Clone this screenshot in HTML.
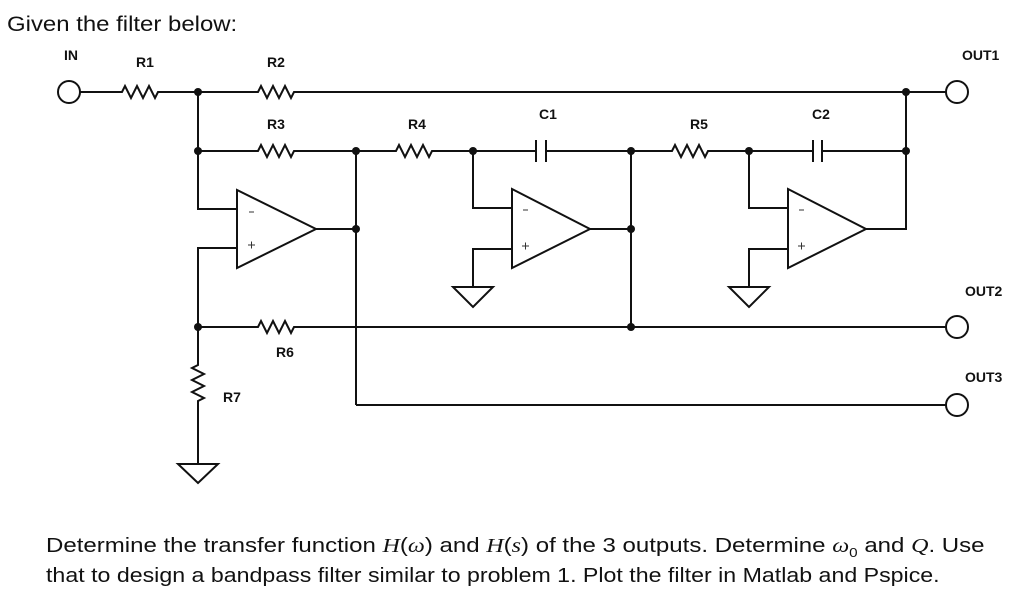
<!DOCTYPE html>
<html><head><style>
body{margin:0;background:#fff;width:1024px;height:593px;overflow:hidden;position:relative;font-family:"Liberation Sans",sans-serif}
.t{position:absolute;white-space:nowrap;color:#111;transform-origin:0 0}
i{font-family:'Liberation Serif',serif}
</style></head><body>
<div class="t" style="left:7px;top:13px;font-size:21px;transform:scaleX(1.14)">Given the filter below:</div>
<div class="t" style="left:46px;top:531px;font-size:20.5px;line-height:30px;transform:scaleX(1.172)">Determine the transfer function <i>H</i>(<i>ω</i>) and <i>H</i>(<i>s</i>) of the 3 outputs. Determine <i>ω</i><sub style="font-size:13px">0</sub> and <i>Q</i>. Use</div>
<div class="t" style="left:46px;top:561px;font-size:20.5px;line-height:30px;transform:scaleX(1.13)">that to design a bandpass filter similar to problem 1. Plot the filter in Matlab and Pspice.</div>
<svg width="1024" height="593" style="position:absolute;left:0;top:0" fill="none" stroke="#111" stroke-width="2">
<g font-family="Liberation Sans,sans-serif" font-weight="bold" font-size="14" fill="#111" stroke="none">
<text x="64" y="60">IN</text><text x="136" y="67">R1</text><text x="267" y="67">R2</text>
<text x="267" y="129">R3</text><text x="408" y="129">R4</text><text x="539" y="119">C1</text>
<text x="690" y="129">R5</text><text x="812" y="119">C2</text>
<text x="276" y="357">R6</text><text x="223" y="402">R7</text>
<text x="962" y="60">OUT1</text><text x="965" y="296">OUT2</text><text x="965" y="382">OUT3</text>
</g>
<circle cx="69" cy="92" r="11"/><circle cx="957" cy="92" r="11"/><circle cx="957" cy="327" r="11"/><circle cx="957" cy="405" r="11"/>
<path d="M80 92H122l3-6 6 12 6-12 6 12 6-12 6 12 3-6H258l3-6 6 12 6-12 6 12 6-12 6 12 3-6H946"/>
<path d="M198 151H258l3-6 6 12 6-12 6 12 6-12 6 12 3-6H396l3-6 6 12 6-12 6 12 6-12 6 12 3-6H536M546 151H672l3-6 6 12 6-12 6 12 6-12 6 12 3-6H813M822 151H906"/>
<path d="M536 140V162M546 140V162M813 140V162M822 140V162"/>
<path d="M198 327H258l3-6 6 12 6-12 6 12 6-12 6 12 3-6H946"/>
<path d="M356 405H946"/>
<path d="M198 92V209H237M237 248H198V365l-6 3 12 6-12 6 12 6-12 6 12 6-6 3V464"/>
<path d="M356 151V405M316 229H356"/>
<path d="M473 151V208H512M512 249H473V287M590 229H631M631 151V327"/>
<path d="M749 151V208H788M788 249H749V287M866 229H906V92"/>
<path d="M237 190V268L316 229Z"/><path d="M512 189V268L590 229Z"/><path d="M788 189V268L866 229Z"/>
<g stroke-width="1" stroke="#333"><path d="M249 212h5M248 245h7M251.5 241.5v7M523 210h5M522 246h7M525.5 242.5v7M799 210h5M798 246h7M801.5 242.5v7"/></g>
<path d="M178 464H218L198 483Z"/><path d="M453 287H493L473 307Z"/><path d="M729 287H769L749 307Z"/>
<g fill="#111" stroke="none">
<circle cx="198" cy="92" r="4"/><circle cx="198" cy="151" r="4"/><circle cx="356" cy="151" r="4"/><circle cx="473" cy="151" r="4"/>
<circle cx="631" cy="151" r="4"/><circle cx="749" cy="151" r="4"/><circle cx="906" cy="151" r="4"/><circle cx="906" cy="92" r="4"/>
<circle cx="356" cy="229" r="4"/><circle cx="631" cy="229" r="4"/><circle cx="198" cy="327" r="4"/><circle cx="631" cy="327" r="4"/>
</g>
</svg>
</body></html>
